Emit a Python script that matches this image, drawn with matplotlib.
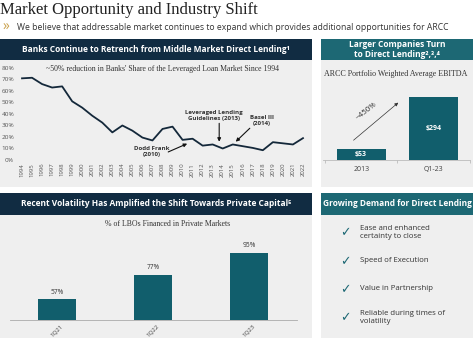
import matplotlib
matplotlib.use("Agg")
import matplotlib.pyplot as plt
from matplotlib.patches import Rectangle

# dane
lata = list(range(1994, 2023))
udzial_bankow = [71, 71.5, 66, 63, 64, 51, 45.5, 38.5, 32.5, 24, 30, 25.5, 19.5, 17, 27, 29,
                 17.5, 18.5, 12.5, 13.5, 10, 13.5, 12, 10.5, 8.5, 15.5, 14.5, 13.5, 19]
y_ticks_linia = [0, 10, 20, 30, 40, 50, 60, 70, 80]

ebitda_okresy = ["2013", "Q1-23"]
ebitda_wartosci = [53, 294]

lbo_kwartaly = ["1Q21", "1Q22", "1Q23"]
lbo_procent = [57, 77, 95]

powody = ["Ease and enhanced\ncertainty to close", "Speed of Execution",
          "Value in Partnership", "Reliable during times of\nvolatility"]

NAVY = "#112c42"
TEAL_HEAD = "#1d6874"
TEAL_BAR = "#115e6c"
LINE = "#14283a"
BG = "#efefef"
TXT = "#333333"
SANS = ["Open Sans", "DejaVu Sans"]
SERIF = ["Liberation Serif", "DejaVu Serif"]

W, H = 474, 338
fig = plt.figure(figsize=(W / 100, H / 100), dpi=100)
fig.patch.set_facecolor("white")


def px_ax(x0, y0, x1, y1):
    # prostokat w pikselach (od gory) -> osie
    return fig.add_axes([x0 / W, 1 - y1 / H, (x1 - x0) / W, (y1 - y0) / H])


def px_rect(x0, y0, x1, y1, color):
    fig.add_artist(Rectangle((x0 / W, 1 - y1 / H), (x1 - x0) / W, (y1 - y0) / H,
                             transform=fig.transFigure, facecolor=color,
                             edgecolor="none", zorder=0))


def px_text(x, y, s, **kw):
    fig.text(x / W, 1 - y / H, s, **kw)


# naglowek strony
px_text(0, 10, "Market Opportunity and Industry Shift", family=SERIF, fontsize=12,
        color="#222222", va="center", ha="left")
px_text(2, 27, "»", family=SANS, fontsize=10, color="#c9a04a", va="center", ha="left")
px_text(17, 27, "We believe that addressable market continues to expand which provides "
        "additional opportunities for ARCC", family=SANS, fontsize=6.2, color=TXT,
        va="center", ha="left")

# tla paneli
px_rect(0, 39, 312, 60, NAVY)
px_rect(0, 60, 312, 187, BG)
px_rect(321, 39, 473, 60, TEAL_HEAD)
px_rect(321, 60, 473, 187, BG)
px_rect(0, 193, 312, 215, NAVY)
px_rect(0, 215, 312, 338, BG)
px_rect(321, 193, 473, 215, TEAL_HEAD)
px_rect(321, 215, 473, 338, BG)

px_text(156, 49.5, "Banks Continue to Retrench from Middle Market Direct Lending¹",
        family=SANS, fontsize=6, weight="bold", color="white", ha="center", va="center")
px_text(397, 49.5, "Larger Companies Turn\nto Direct Lending²,³,⁴", family=SANS,
        fontsize=6, weight="bold", color="white", ha="center", va="center",
        linespacing=1.15)
px_text(156, 204, "Recent Volatility Has Amplified the Shift Towards Private Capital⁵",
        family=SANS, fontsize=6, weight="bold", color="white", ha="center", va="center")
px_text(397, 204, "Growing Demand for Direct Lending", family=SANS, fontsize=6,
        weight="bold", color="white", ha="center", va="center")

# wykres liniowy - udzial bankow
ax1 = px_ax(17, 62, 308, 160)
ax1.set_facecolor("none")
ax1.plot(lata, udzial_bankow, color=LINE, lw=1.3)
ax1.set_xlim(1993.5, 2022.5)
ax1.set_ylim(0, 85.2)
ax1.set_xticks(lata)
ax1.set_xticklabels([str(r) for r in lata], rotation=90, family=SANS, fontsize=4.3,
                    color="#555555")
ax1.set_yticks(y_ticks_linia)
ax1.set_yticklabels([f"{v}%" for v in y_ticks_linia], family=SANS, fontsize=4.6,
                    color="#555555")
ax1.tick_params(length=0, pad=2)
for s in ax1.spines.values():
    s.set_visible(False)
ax1.text(2008.0, 79.5, "~50% reduction in Banks' Share of the Leveraged Loan Market Since 1994",
         family=SERIF, fontsize=5.6, color=TXT, ha="center", va="center")

opis = dict(family=SANS, fontsize=4.4, weight="bold", color=TXT, ha="center",
            va="center", linespacing=1.3)
strz = dict(arrowstyle="-|>", color="#111111", lw=0.8, mutation_scale=5,
            shrinkA=0, shrinkB=0)
ax1.text(2013.1, 39, "Leveraged Lending\nGuidelines (2013)", **opis)
ax1.annotate("", xy=(2013.65, 15.9), xytext=(2013.65, 31.9), arrowprops=strz)
ax1.text(2017.9, 34.5, "Basel III\n(2014)", **opis)
ax1.annotate("", xy=(2015.3, 15.9), xytext=(2016.7, 27.6), arrowprops=strz)
ax1.text(2006.9, 7.5, "Dodd Frank\n(2010)", **opis)
ax1.annotate("", xy=(2010.46, 14.2), xytext=(2008.57, 7.0), arrowprops=strz)

# wykres EBITDA
ax2 = px_ax(323, 85, 470, 160)
ax2.set_facecolor("none")
poz2 = list(range(len(ebitda_okresy)))
ax2.bar(poz2, ebitda_wartosci, width=0.676, color=TEAL_BAR)
ax2.set_xlim(-0.527, 1.46)
ax2.set_ylim(0, 350)
for p, v in zip(poz2, ebitda_wartosci):
    ax2.text(p, v / 2, f"${v}", family=SANS, fontsize=5, weight="bold",
             color="white", ha="center", va="center")
ax2.set_xticks(poz2)
ax2.set_xticklabels(ebitda_okresy, family=SANS, fontsize=5, color="#444444")
ax2.set_xticks([-0.5, 0.5, 1.5], minor=True)
ax2.tick_params(axis="x", which="major", length=0, pad=4)
ax2.tick_params(axis="x", which="minor", length=2, color="#bbbbbb", width=0.6)
ax2.set_yticks([])
for k in ["top", "right", "left"]:
    ax2.spines[k].set_visible(False)
ax2.spines["bottom"].set_color("#bbbbbb")
ax2.spines["bottom"].set_linewidth(0.6)
ax2.annotate("", xy=(0.54, 276), xytext=(-0.135, 84),
             arrowprops=dict(arrowstyle="-|>", color="#333333", lw=0.5, mutation_scale=5))
ax2.text(0.07, 229, "~450%", family=SANS, fontsize=5.8, color=TXT, rotation=38,
         ha="center", va="center")
px_text(396, 74, "ARCC Portfolio Weighted Average EBITDA", family=SERIF, fontsize=5.8,
        color=TXT, ha="center", va="center")

# wykres LBO
ax3 = px_ax(10, 230, 297, 320)
ax3.set_facecolor("none")
poz3 = list(range(len(lbo_kwartaly)))
ax3.bar(poz3, lbo_procent, width=0.396, color=TEAL_BAR, bottom=0)
ax3.set_xlim(-0.49, 2.5)
ax3.set_ylim(40, 114)
for p, v in zip(poz3, lbo_procent):
    ax3.text(p, v + 3, f"{v}%", family=SANS, fontsize=4.8, color=TXT,
             ha="center", va="bottom")
ax3.set_xticks(poz3)
ax3.set_xticklabels(lbo_kwartaly, rotation=45, family=SANS, fontsize=4.4,
                    color="#444444", ha="center")
ax3.tick_params(axis="x", length=0, pad=3)
ax3.set_yticks([])
for k in ["top", "right", "left"]:
    ax3.spines[k].set_visible(False)
ax3.spines["bottom"].set_color("#aaaaaa")
ax3.spines["bottom"].set_linewidth(0.6)
px_text(168, 224, "% of LBOs Financed in Private Markets", family=SERIF, fontsize=5.6,
        color=TXT, ha="center", va="center")

# lista powodow
y_powodow = [232.5, 260.7, 289, 317.5]
for tekst, yy in zip(powody, y_powodow):
    px_text(345, yy + 0.5, "✓", family=["DejaVu Sans"], fontsize=9, color=TEAL_HEAD,
            ha="center", va="center")
    px_text(360.5, yy, tekst, family=SANS, fontsize=5.6, color=TXT, ha="left",
            va="center", linespacing=1.35)

fig.savefig("out.png", dpi=100, facecolor="white")
